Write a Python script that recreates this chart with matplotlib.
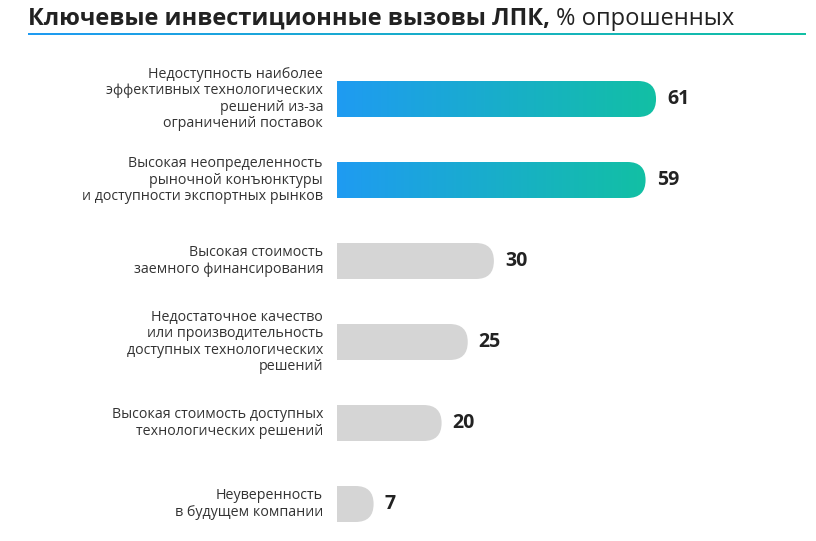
import matplotlib.pyplot as plt
import numpy as np
from matplotlib.patches import FancyBboxPatch
from matplotlib.colors import LinearSegmentedColormap

CATEGORIES = [
    "Недоступность наиболее\nэффективных технологических\nрешений из-за\nограничений поставок",
    "Высокая неопределенность\nрыночной конъюнктуры\nи доступности экспортных рынков",
    "Высокая стоимость\nзаемного финансирования",
    "Недостаточное качество\nили производительность\nдоступных технологических\nрешений",
    "Высокая стоимость доступных\nтехнологических решений",
    "Неуверенность\nв будущем компании",
]
VALUES = [61, 59, 30, 25, 20, 7]
HIGHLIGHT = [True, True, False, False, False, False]

W, H = 816, 541
PX_PER_UNIT = 5.23
ROW_PX = 81
X0_PX = 337
ROW0_PX = 99

grad = LinearSegmentedColormap.from_list("g", ["#1f9bf2", "#12c0a4"])
fam = "Open Sans"

fig = plt.figure(figsize=(W / 100, H / 100), dpi=100)
ax = fig.add_axes([X0_PX / W, 0, 1 - X0_PX / W, 1])
ax.set_xlim(0, (W - X0_PX) / PX_PER_UNIT)
ax.set_ylim((H - ROW0_PX) / ROW_PX, -ROW0_PX / ROW_PX)
ax.axis("off")

bh = 36 / ROW_PX
r = 18 / PX_PER_UNIT
aspect = PX_PER_UNIT / ROW_PX
for i, (cat, v, hl) in enumerate(zip(CATEGORIES, VALUES, HIGHLIGHT)):
    box = FancyBboxPatch((-r, i - bh / 2), v + r, bh,
                         boxstyle=f"round,pad=0,rounding_size={r}",
                         mutation_aspect=aspect,
                         fc="#d5d5d5" if not hl else "none", ec="none")
    ax.add_patch(box)
    if hl:
        img = ax.imshow(np.linspace(0, 1, 256)[None, :], cmap=grad, aspect="auto",
                        extent=(0, v, i + bh / 2, i - bh / 2), zorder=2)
        img.set_clip_path(box)
    ax.text(-14 / PX_PER_UNIT, i, cat, ha="right", va="center", fontsize=10.3,
            family=fam, color="#333333", linespacing=1.12, clip_on=False)
    ax.text(v + 11 / PX_PER_UNIT, i, str(v), ha="left", va="center", fontsize=14,
            fontweight="bold", family=fam, color="#222222")

t1 = fig.text(28 / W, 1 - 19 / H, "Ключевые инвестиционные вызовы ЛПК,", fontsize=17,
              fontweight="bold", family=fam, color="#222222", va="center")
fig.canvas.draw()
bb = t1.get_window_extent()
fig.text((bb.x1 + 6) / W, 1 - 19 / H, "% опрошенных", fontsize=17,
         family=fam, color="#222222", va="center")

lax = fig.add_axes([28 / W, 1 - 35 / H, (806 - 28) / W, 2 / H])
lax.imshow(np.linspace(0, 1, 256)[None, :], cmap=grad, aspect="auto")
lax.axis("off")

fig.savefig("out.png", dpi=100)
